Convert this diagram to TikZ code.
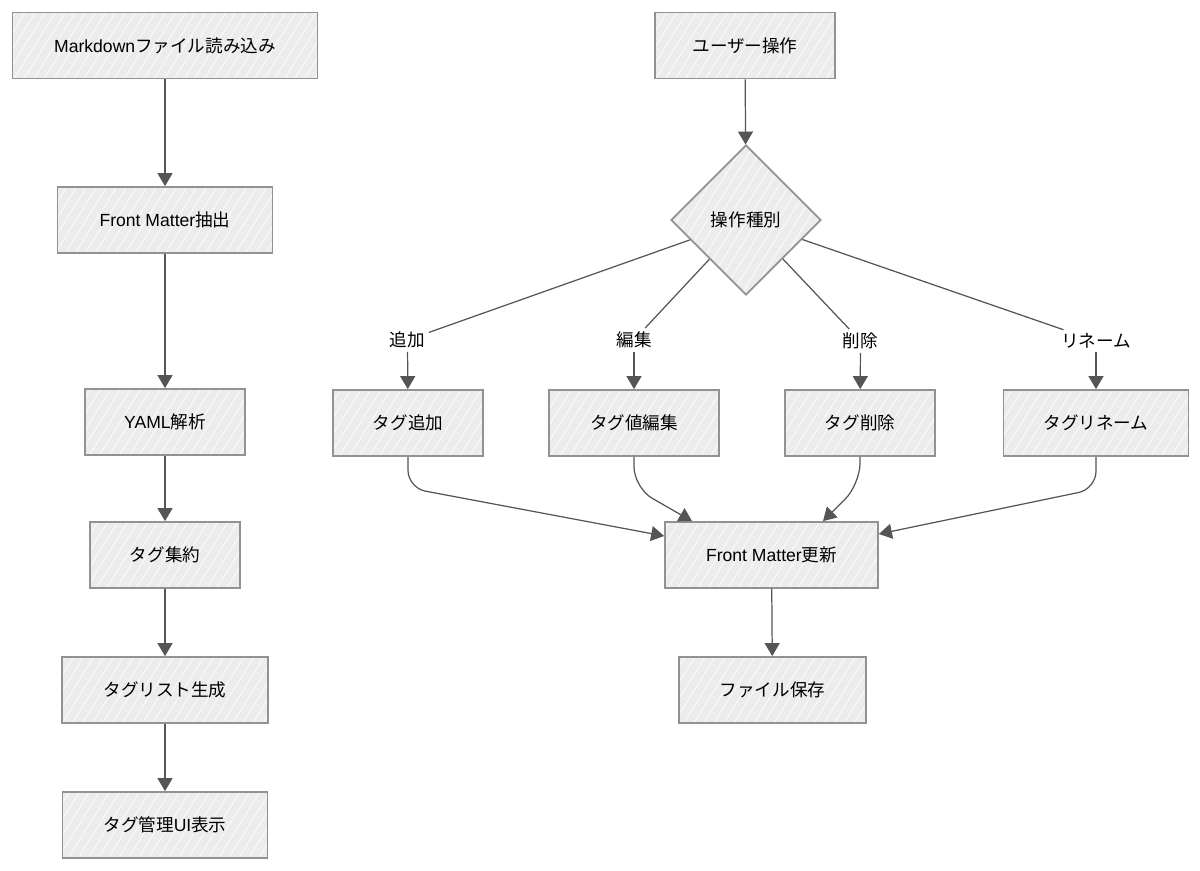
\documentclass[tikz,border=0pt]{standalone}
\usepackage{fontspec}
\setmainfont{Liberation Sans}
\newfontfamily\jpfont{Noto Sans CJK JP}
\newcommand{\jp}[1]{{\jpfont #1}}
\usepackage{tikz}
\usetikzlibrary{arrows.meta,shapes.geometric,patterns.meta}
\definecolor{boxfill}{HTML}{ECECEC}
\definecolor{boxline}{HTML}{929292}
\definecolor{arrowgray}{HTML}{555555}
\tikzset{
  flowarrow/.style={-{Triangle[length=2.6mm,width=3mm]}, draw=arrowgray, line width=0.7pt},
  plainline/.style={draw=arrowgray, line width=0.7pt},
  hatch/.style={preaction={fill=boxfill}, preaction={pattern={Lines[angle=58,distance=1.7mm,line width=0.4pt]}, pattern color=white}},
  stepbox/.style={hatch, draw=boxline, line width=1pt, minimum height=1.32cm, align=center},
  choice/.style={diamond, hatch, draw=boxline, line width=1pt, minimum size=3cm, inner sep=0pt, align=center},
  edgelabel/.style={fill=white, inner sep=2pt}
}
\begin{document}
\begin{tikzpicture}[every node/.style={font=\fontsize{10}{12}\selectfont}]
  \useasboundingbox (0,0) rectangle (24,-17.42);
  % left column
  \node[stepbox, minimum width=6.1cm] (read) at (3.3,-0.91) {Markdown\jp{ファイル読み込み}};
  \node[stepbox, minimum width=4.3cm] (extract) at (3.3,-4.4) {Front Matter\jp{抽出}};
  \node[stepbox, minimum width=3.2cm] (yaml) at (3.3,-8.44) {YAML\jp{解析}};
  \node[stepbox, minimum width=3.0cm] (collect) at (3.3,-11.1) {\jp{タグ集約}};
  \node[stepbox, minimum width=4.12cm] (taglist) at (3.3,-13.8) {\jp{タグリスト生成}};
  \node[stepbox, minimum width=4.1cm] (tagui) at (3.3,-16.5) {\jp{タグ管理}UI\jp{表示}};
  \draw[flowarrow] (read) -- (extract);
  \draw[flowarrow] (extract) -- (yaml);
  \draw[flowarrow] (yaml) -- (collect);
  \draw[flowarrow] (collect) -- (taglist);
  \draw[flowarrow] (taglist) -- (tagui);

  % right column
  \node[stepbox, minimum width=3.6cm] (userop) at (14.9,-0.91) {\jp{ユーザー操作}};
  \node[choice] (optype) at (14.92,-4.4) {\jp{操作種別}};
  \node[edgelabel] (ladd) at (8.15,-6.8) {\jp{追加}};
  \node[edgelabel] (ledit) at (12.68,-6.8) {\jp{編集}};
  \node[edgelabel] (ldel) at (17.21,-6.82) {\jp{削除}};
  \node[edgelabel] (lren) at (21.92,-6.82) {\jp{リネーム}};
  \node[stepbox, minimum width=3.0cm] (addtag) at (8.16,-8.46) {\jp{タグ追加}};
  \node[stepbox, minimum width=3.4cm] (edittag) at (12.68,-8.46) {\jp{タグ値編集}};
  \node[stepbox, minimum width=3.0cm] (deltag) at (17.2,-8.46) {\jp{タグ削除}};
  \node[stepbox, minimum width=3.7cm] (rentag) at (21.92,-8.46) {\jp{タグリネーム}};
  \node[stepbox, minimum width=4.26cm] (fmupdate) at (15.43,-11.1) {Front Matter\jp{更新}};
  \node[stepbox, minimum width=3.74cm] (savefile) at (15.45,-13.8) {\jp{ファイル保存}};

  \draw[flowarrow] (userop) -- (optype);
  \draw[plainline] (optype) -- (ladd);
  \draw[plainline] (optype) -- (ledit);
  \draw[plainline] (optype) -- (ldel);
  \draw[plainline] (optype) -- (lren);
  \draw[flowarrow] (ladd) -- (addtag);
  \draw[flowarrow] (ledit) -- (edittag);
  \draw[flowarrow] (ldel) -- (deltag);
  \draw[flowarrow] (lren) -- (rentag);

  \draw[flowarrow, rounded corners=10pt] (addtag.south) -- ++(0,-0.62) -- ([yshift=0.38cm]fmupdate.west);
  \draw[flowarrow, rounded corners=12pt] (edittag.south) -- ++(0,-0.62) -- ([xshift=-1.59cm]fmupdate.north);
  \draw[flowarrow, rounded corners=12pt] (deltag.south) -- ++(0,-0.55) -- ([xshift=1.03cm]fmupdate.north);
  \draw[flowarrow, rounded corners=10pt] (rentag.south) -- ++(0,-0.64) -- ([yshift=0.42cm]fmupdate.east);
  \draw[flowarrow] (fmupdate) -- (savefile);
\end{tikzpicture}
\end{document}
